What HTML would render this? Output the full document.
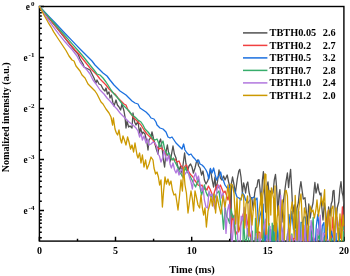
<!DOCTYPE html>
<html><head><meta charset="utf-8"><title>Decay curves</title>
<style>html,body{margin:0;padding:0;background:#fff}svg{display:block}text{font-family:"Liberation Serif","Times New Roman",serif;font-weight:bold;fill:#000}</style></head>
<body>
<svg width="350" height="276" viewBox="0 0 350 276">
<rect width="350" height="276" fill="#fff"/>
<g stroke="#000" stroke-width="1.4" fill="none">
<rect x="39.4" y="6.5" width="304.5" height="234.6"/>
<path stroke-width="1.45" d="M39.4,6.5h4.6M39.4,10.0h2.4M39.4,12.8h2.4M39.4,15.9h2.4M39.4,19.3h2.4M39.4,23.4h2.4M39.4,28.2h2.4M39.4,33.7h2.4M39.4,40.2h2.4M39.4,48.2h2.4M39.4,57.5h4.6M39.4,61.0h2.4M39.4,63.8h2.4M39.4,66.9h2.4M39.4,70.3h2.4M39.4,74.4h2.4M39.4,79.2h2.4M39.4,84.7h2.4M39.4,91.2h2.4M39.4,99.2h2.4M39.4,108.5h4.6M39.4,112.0h2.4M39.4,114.8h2.4M39.4,117.9h2.4M39.4,121.3h2.4M39.4,125.4h2.4M39.4,130.2h2.4M39.4,135.7h2.4M39.4,142.2h2.4M39.4,150.2h2.4M39.4,159.5h4.6M39.4,163.0h2.4M39.4,165.8h2.4M39.4,168.9h2.4M39.4,172.3h2.4M39.4,176.4h2.4M39.4,181.2h2.4M39.4,186.7h2.4M39.4,193.2h2.4M39.4,201.2h2.4M39.4,210.5h4.6M39.4,214.0h2.4M39.4,216.8h2.4M39.4,219.9h2.4M39.4,223.3h2.4M39.4,227.4h2.4M39.4,232.2h2.4M39.4,237.7h2.4M39.4,241.1v-4.3M77.5,241.1v-2.3M115.5,241.1v-4.3M153.6,241.1v-2.3M191.7,241.1v-4.3M229.7,241.1v-2.3M267.8,241.1v-4.3M305.8,241.1v-2.3M343.9,241.1v-4.3"/>
</g>
<clipPath id="pc"><rect x="38.699999999999996" y="5.8" width="305.9" height="235.6"/></clipPath>
<g fill="none" stroke-width="1.3" stroke-linejoin="round" stroke-linecap="round" clip-path="url(#pc)">
<path stroke="#515151" d="M39.5,6.5 L43.9,11.9 L48.2,17.4 L52.6,22.8 L57.0,28.2 L61.3,33.7 L65.7,39.1 L70.0,44.6 L74.4,50.0 L78.0,54.0 L80.0,59.0 L83.0,64.0 L84.0,67.0 L88.0,69.0 L90.0,70.0 L92.0,74.0 L94.0,78.0 L96.0,83.0 L97.0,80.0 L99.0,84.0 L101.0,85.0 L103.0,89.0 L105.0,91.0 L106.0,88.0 L107.4,94.0 L109.0,92.0 L110.0,98.0 L111.4,95.0 L113.0,103.0 L114.0,106.0 L116.0,100.0 L117.4,105.0 L119.0,107.0 L120.6,110.0 L122.0,104.0 L124.0,111.0 L125.0,117.0 L126.0,128.0 L127.0,121.0 L128.6,127.0 L130.0,126.0 L132.0,128.0 L133.0,113.0 L134.6,122.0 L136.0,125.0 L138.0,121.0 L139.4,133.0 L140.6,128.0 L142.0,134.0 L143.0,132.0 L145.0,134.0 L147.0,143.0 L148.0,150.0 L149.0,140.0 L151.0,137.0 L152.0,132.0 L153.6,139.0 L155.0,144.0 L156.6,150.0 L158.0,154.0 L159.4,142.0 L160.6,139.0 L162.0,147.0 L163.4,160.0 L164.6,167.0 L166.0,152.0 L167.4,145.0 L168.6,153.0 L170.0,162.0 L171.4,155.0 L173.0,146.0 L174.4,154.0 L176.0,158.0 L177.4,165.0 L179.0,170.0 L180.6,166.0 L182.0,173.0 L183.4,162.0 L184.6,153.0 L186.0,164.0 L187.4,171.0 L189.0,166.0 L190.6,164.0 L192.0,167.0 L193.4,173.0 L195.0,168.0 L196.4,162.0 L197.4,160.0 L198.6,166.0 L200.0,168.0 L201.6,175.0 L203.0,171.0 L204.4,180.0 L206.0,184.0 L207.6,181.0 L209.0,177.0 L210.4,169.0 L212.0,179.0 L213.6,187.0 L215.0,177.0 L216.0,190.0 L217.6,181.0 L219.0,170.0 L220.4,178.0 L222.0,180.0 L223.6,176.0 L225.0,180.0 L227.2,175.0 L228.6,182.0 L230.0,187.5 L230.8,241.0 L231.5,183.0 L232.5,177.0 L234.0,184.6 L235.4,193.0 L237.3,179.0 L238.8,171.0 L239.8,169.4 L241.0,177.0 L242.4,193.0 L243.6,183.0 L244.6,187.0 L245.6,193.0 L246.7,184.6 L247.8,182.0 L249.0,192.0 L250.4,198.0 L251.8,197.7 L253.3,210.0 L254.7,193.0 L255.7,188.0 L256.9,187.0 L258.0,180.0 L259.0,179.6 L260.0,189.0 L261.2,205.0 L262.4,180.0 L263.4,171.6 L264.4,184.6 L265.6,212.0 L267.0,186.0 L268.0,182.0 L269.2,195.0 L270.7,191.0 L272.0,193.0 L273.0,193.0 L274.3,180.0 L275.5,174.5 L276.5,186.0 L278.0,215.0 L279.0,195.0 L279.9,189.7 L280.9,210.0 L282.0,222.0 L283.0,204.0 L284.5,193.0 L286.0,181.7 L287.4,173.0 L288.6,187.5 L289.6,177.4 L290.6,169.4 L291.7,189.0 L292.9,214.0 L294.3,205.0 L295.6,228.0 L297.0,208.0 L298.3,203.0 L299.7,189.0 L300.9,181.7 L301.9,189.0 L303.3,199.0 L305.0,197.7 L306.0,208.0 L307.4,225.0 L308.8,204.0 L310.2,218.0 L311.6,209.0 L313.0,203.0 L314.2,189.0 L314.9,182.5 L316.0,193.0 L317.0,189.0 L317.8,184.0 L318.8,190.4 L320.0,194.8 L321.0,193.0 L321.7,206.0 L323.0,220.0 L324.4,203.0 L325.8,213.0 L327.2,230.0 L328.6,207.0 L330.0,216.0 L331.2,204.0 L332.2,201.0 L333.0,191.0 L334.0,190.4 L334.8,205.0 L336.0,222.0 L337.4,207.0 L338.8,202.0 L339.9,189.0 L341.0,181.7 L342.0,192.0 L343.0,196.0 L343.9,205.0"/>
<path stroke="#F14040" d="M39.5,6.5 L43.9,11.9 L48.4,17.4 L52.8,22.8 L57.2,28.2 L61.7,33.7 L66.1,39.1 L70.6,44.6 L75.0,50.0 L79.0,54.0 L82.0,58.0 L86.0,63.0 L90.0,68.0 L94.0,72.0 L97.0,75.0 L100.0,79.0 L103.0,82.0 L106.0,85.0 L109.0,89.0 L112.0,92.0 L115.0,94.0 L118.0,98.0 L121.0,101.0 L124.0,104.0 L126.0,105.0 L128.0,110.0 L131.0,114.0 L133.0,117.0 L136.0,120.0 L139.0,123.0 L141.0,125.0 L144.0,130.0 L147.0,134.0 L150.0,137.0 L153.0,140.0 L155.0,144.0 L157.0,147.0 L159.0,149.0 L161.0,148.0 L163.0,150.0 L165.0,153.0 L167.0,155.0 L169.0,156.0 L171.0,158.0 L173.0,160.0 L175.0,159.0 L177.0,162.0 L179.0,161.0 L180.6,165.0 L182.0,167.0 L183.4,169.0 L185.0,166.0 L186.6,165.0 L188.0,170.0 L189.4,173.0 L191.0,175.0 L193.0,177.0 L194.5,180.0 L196.0,182.0 L198.0,185.0 L200.0,186.0 L202.0,185.0 L203.6,190.0 L205.0,188.0 L207.0,190.0 L208.4,186.0 L210.0,189.0 L211.6,193.0 L213.0,199.0 L214.4,192.0 L216.0,187.0 L217.6,185.0 L219.0,188.0 L220.4,185.0 L222.0,189.0 L223.6,193.0 L225.0,191.0 L226.4,195.0 L228.0,200.0 L229.5,193.7 L231.0,232.8 L232.5,214.1 L234.1,223.3 L235.6,234.9 L237.1,231.4 L238.6,232.0 L240.1,226.7 L241.7,220.9 L243.2,213.9 L244.7,225.7 L246.2,214.7 L247.7,224.3 L249.3,230.7 L250.8,237.4 L252.3,255.5 L253.8,277.2 L255.3,237.7 L256.9,240.2 L258.4,232.0 L259.9,232.4 L261.4,272.3 L262.9,256.0 L264.5,269.4 L266.0,224.0 L267.5,243.8 L269.0,239.5 L270.5,265.7 L272.1,280.2 L273.6,257.4 L275.1,245.9 L276.6,235.1 L278.1,296.4 L279.7,238.1 L281.2,268.3 L282.7,258.4 L284.2,253.5 L285.7,256.4 L287.3,236.9 L288.8,229.9 L290.3,239.5 L291.8,260.6 L293.3,238.3 L294.9,239.3 L296.4,230.8 L297.9,241.7 L299.4,312.5 L300.9,268.8 L302.5,258.0 L304.0,230.3 L305.5,251.3 L307.0,230.6 L308.5,241.9 L310.1,287.7 L311.6,247.4 L313.1,237.1 L314.6,239.9 L316.1,305.8 L317.7,239.6 L319.2,264.6 L320.7,370.2 L322.2,264.2 L323.7,366.9 L325.3,293.5 L326.8,223.1 L328.3,210.5 L329.8,228.9 L331.3,239.8 L332.9,217.1 L334.4,241.7 L335.9,279.7 L337.4,370.2 L338.9,231.4 L340.6,238.0 L342.4,207.0 L343.9,232.0"/>
<path stroke="#1A6FDF" d="M39.5,6.5 L44.7,11.9 L49.9,17.4 L55.1,22.8 L60.2,28.2 L65.4,33.7 L70.6,39.1 L75.8,44.6 L81.0,50.0 L84.0,53.0 L88.0,57.0 L92.0,61.0 L95.0,65.0 L99.0,69.0 L103.0,73.0 L107.0,76.0 L110.0,80.0 L114.0,85.0 L117.0,88.0 L120.0,91.0 L123.0,93.0 L126.0,95.0 L129.0,98.0 L132.0,101.0 L135.0,103.0 L138.0,104.0 L140.0,108.0 L143.0,110.0 L146.0,112.0 L149.0,115.0 L151.0,118.0 L154.0,119.0 L156.0,122.0 L157.0,125.0 L160.0,128.0 L163.0,129.0 L164.0,130.0 L166.0,132.0 L168.0,137.0 L170.0,138.0 L172.0,137.0 L174.0,140.0 L176.0,143.0 L178.0,145.0 L180.0,147.0 L182.0,149.0 L183.6,144.0 L185.0,150.0 L187.0,153.0 L189.0,155.0 L191.0,154.0 L193.0,157.0 L195.0,159.0 L197.0,162.0 L198.6,160.0 L200.0,164.0 L202.0,165.0 L204.0,167.0 L206.0,170.0 L207.4,173.0 L208.8,179.0 L210.4,168.5 L212.0,173.0 L213.6,168.0 L215.2,175.0 L216.6,180.0 L218.0,177.0 L219.4,175.0 L220.6,172.0 L222.0,178.0 L223.6,181.0 L225.0,185.0 L226.4,187.0 L228.0,189.0 L230.0,186.0 L232.0,185.0 L234.0,189.0 L235.6,193.0 L237.0,197.0 L239.0,198.0 L241.0,200.0 L242.4,193.0 L244.0,195.0 L245.6,200.0 L248.0,203.0 L250.0,200.0 L252.0,198.0 L254.0,197.0 L255.6,200.0 L257.0,198.0 L258.5,226.5 L260.0,215.7 L261.5,210.4 L263.1,204.1 L264.6,244.5 L266.1,235.2 L267.6,239.6 L269.1,231.3 L270.7,229.7 L272.2,249.9 L273.7,225.4 L275.2,255.2 L276.7,223.0 L278.3,246.0 L279.8,227.2 L281.3,225.8 L282.8,234.2 L284.3,242.8 L285.9,246.9 L287.4,255.1 L288.9,214.3 L290.4,225.9 L291.9,211.5 L293.5,229.5 L295.0,230.2 L296.5,246.2 L298.0,240.3 L299.5,271.7 L301.1,222.4 L302.6,222.6 L304.1,216.8 L305.6,217.2 L307.1,258.2 L308.7,326.2 L310.2,226.1 L311.7,233.7 L313.2,258.0 L314.7,256.7 L316.3,226.0 L317.8,214.3 L319.3,231.4 L320.8,251.9 L322.3,225.9 L323.9,222.5 L325.4,265.3 L326.9,227.3 L328.4,259.5 L329.9,238.7 L331.5,231.2 L333.0,238.3 L334.5,276.1 L336.0,233.1 L337.5,273.5 L339.1,228.5 L340.6,294.5 L342.1,249.2 L343.6,248.9"/>
<path stroke="#37AD6B" d="M39.5,6.5 L44.3,11.9 L49.0,17.4 L53.8,22.8 L58.5,28.2 L63.3,33.7 L68.1,39.1 L72.8,44.6 L77.6,50.0 L82.0,55.0 L86.0,60.0 L90.0,65.0 L94.0,70.0 L97.0,74.0 L100.0,75.0 L103.0,78.0 L106.0,82.0 L108.0,85.0 L111.0,90.0 L114.0,94.0 L117.0,97.0 L120.0,101.0 L123.0,105.0 L126.0,108.0 L129.0,111.0 L132.0,115.0 L135.0,117.0 L138.0,120.0 L141.0,122.0 L143.0,125.0 L145.0,129.0 L148.0,132.0 L151.0,136.0 L153.0,139.0 L155.0,140.0 L157.0,139.0 L158.6,143.0 L160.0,147.0 L161.4,144.0 L163.0,141.0 L164.6,149.0 L166.0,152.0 L167.4,155.0 L169.0,153.0 L170.6,157.0 L172.0,160.0 L173.4,158.0 L175.0,162.0 L176.6,165.0 L178.0,168.0 L179.4,172.0 L181.0,174.0 L182.6,177.0 L184.0,172.0 L185.4,167.0 L186.6,171.0 L188.0,173.0 L190.0,176.0 L192.0,180.0 L194.0,184.0 L195.6,187.0 L197.0,183.0 L198.4,179.0 L200.0,187.0 L201.6,195.0 L203.0,190.0 L204.4,185.0 L206.0,192.0 L207.6,196.0 L209.0,193.0 L211.0,197.0 L213.0,195.0 L215.0,198.0 L217.0,193.0 L219.0,191.0 L220.5,203.2 L222.0,210.7 L223.5,229.3 L225.1,207.8 L226.6,216.9 L228.1,218.7 L229.6,223.4 L231.1,208.8 L232.7,217.6 L234.2,215.4 L235.7,239.0 L237.2,244.1 L238.7,259.7 L240.3,243.2 L241.8,370.2 L243.3,216.3 L244.8,239.1 L246.3,241.0 L247.9,228.3 L249.4,252.5 L250.9,239.9 L252.4,231.1 L253.9,300.3 L255.5,218.3 L257.0,243.7 L258.5,235.1 L260.0,277.7 L261.5,263.7 L263.1,219.7 L264.6,261.7 L266.1,258.5 L267.6,238.7 L269.1,223.6 L270.7,370.2 L272.2,223.1 L273.7,243.2 L275.2,231.8 L276.7,280.3 L278.3,242.6 L279.8,221.4 L281.3,251.7 L282.8,266.4 L284.3,260.7 L285.9,263.4 L287.4,233.8 L288.9,245.2 L290.4,262.5 L291.9,234.0 L293.5,284.5 L295.0,303.4 L296.5,211.4 L298.0,267.0 L299.5,221.5 L301.1,251.8 L302.6,255.1 L304.1,238.8 L305.6,274.9 L307.1,274.4 L308.7,254.8 L310.2,259.6 L311.7,235.3 L313.2,217.4 L314.7,288.8 L316.3,275.7 L317.8,234.7 L319.3,239.1 L320.8,228.8 L322.3,270.8 L323.9,237.5 L325.4,251.0 L326.9,318.7 L328.4,240.3 L329.9,313.5 L331.5,238.6 L333.0,261.6 L334.5,254.6 L336.0,215.0 L337.5,222.8 L339.1,240.7 L340.6,241.3 L342.1,271.9 L343.6,226.8"/>
<path stroke="#B177DE" d="M39.4,6.5 L43.0,12.0 L47.0,18.0 L53.0,26.3 L59.0,34.3 L65.0,41.8 L69.0,46.3 L72.4,50.0 L77.0,56.0 L80.0,62.0 L83.0,66.0 L87.0,70.0 L90.0,74.0 L93.0,80.0 L96.0,84.0 L100.0,90.0 L104.0,94.0 L107.0,98.0 L110.0,101.0 L114.0,106.0 L117.0,109.0 L120.0,113.0 L123.0,116.0 L126.0,119.0 L129.0,122.0 L133.0,125.0 L136.0,128.0 L138.0,131.0 L139.6,137.0 L141.0,133.0 L142.4,140.0 L144.0,136.0 L146.0,143.0 L147.6,139.0 L149.0,145.0 L151.0,144.0 L153.0,142.0 L155.0,143.0 L156.6,146.0 L158.0,154.0 L159.4,156.0 L161.0,162.0 L162.6,158.0 L164.0,151.0 L165.4,156.0 L167.0,161.0 L168.6,155.0 L170.0,164.0 L171.4,168.0 L173.0,163.0 L174.6,170.0 L176.0,173.0 L177.4,169.0 L179.0,175.0 L180.6,171.0 L182.0,169.0 L183.4,177.0 L185.0,174.0 L186.6,172.0 L188.0,171.0 L189.4,177.0 L191.0,182.0 L192.4,189.0 L194.0,177.0 L195.6,173.0 L197.0,180.0 L198.4,176.0 L200.0,184.0 L201.6,191.0 L203.0,187.0 L204.4,200.0 L206.0,207.0 L207.6,208.0 L209.0,191.0 L210.4,196.0 L212.0,194.0 L213.6,205.0 L215.0,209.0 L216.4,195.0 L217.4,187.0 L218.4,185.0 L220.0,189.0 L221.6,198.0 L223.0,193.0 L224.4,203.0 L226.0,233.4 L227.5,210.4 L229.0,204.4 L230.6,226.5 L232.1,245.1 L233.6,222.2 L235.1,215.4 L236.6,208.4 L238.2,250.7 L239.7,254.8 L241.2,216.2 L242.7,220.4 L244.2,207.1 L245.8,214.7 L247.3,233.0 L248.8,237.4 L250.3,198.0 L251.8,239.5 L253.4,252.9 L254.9,265.5 L256.4,233.6 L257.9,233.2 L259.4,244.5 L261.0,238.6 L262.5,232.3 L264.0,225.2 L265.5,219.1 L267.0,234.8 L268.6,316.3 L270.1,226.3 L271.6,290.5 L273.1,244.7 L274.6,295.7 L276.2,241.2 L277.7,263.6 L279.2,237.1 L280.7,195.2 L282.2,243.4 L283.8,225.8 L285.3,290.9 L286.8,250.2 L288.3,229.4 L289.8,245.5 L291.4,235.2 L292.9,241.1 L294.4,276.4 L295.9,231.8 L297.4,268.6 L299.0,211.6 L300.5,258.1 L302.0,229.8 L303.5,244.3 L305.0,225.3 L306.6,261.8 L308.1,224.6 L309.6,247.8 L311.1,220.5 L312.6,231.4 L314.2,241.5 L315.7,268.9 L317.2,228.8 L318.7,234.6 L320.2,215.2 L321.8,255.3 L323.3,233.0 L324.8,233.9 L326.3,238.6 L327.8,240.3 L329.4,240.9 L330.9,262.7 L332.4,279.9 L333.9,256.2 L335.4,232.4 L337.0,217.2 L338.5,225.5 L340.0,224.3 L341.5,229.0 L343.0,230.5"/>
<path stroke="#CC9900" d="M39.4,6.5 L44.1,15.2 L48.1,22.3 L51.2,27.3 L53.7,31.9 L57.0,37.0 L60.0,41.5 L63.0,46.0 L66.0,50.5 L69.0,56.0 L72.0,60.0 L74.0,61.0 L76.0,66.0 L80.0,71.0 L82.0,75.0 L85.0,78.0 L88.0,84.0 L91.0,87.0 L93.0,89.0 L95.0,91.0 L97.0,94.0 L99.0,98.0 L101.0,102.0 L103.0,104.0 L106.0,109.0 L109.0,113.0 L111.0,117.0 L112.6,125.0 L113.4,118.0 L115.0,129.0 L116.4,133.0 L117.6,135.0 L119.0,130.0 L120.4,139.0 L121.6,143.0 L123.0,136.0 L124.4,140.0 L126.0,145.0 L127.6,137.0 L129.0,142.0 L130.6,149.0 L132.0,145.0 L133.6,152.0 L135.0,143.0 L137.0,155.0 L138.0,158.0 L139.6,153.0 L141.0,163.0 L142.4,155.0 L144.0,167.0 L145.6,160.0 L147.0,169.0 L149.0,164.0 L151.0,157.0 L153.0,160.0 L154.0,168.0 L155.6,174.0 L157.0,172.0 L158.4,177.0 L159.6,185.0 L161.0,180.0 L162.4,207.0 L163.6,191.0 L165.0,177.0 L166.4,184.0 L168.0,179.0 L169.4,185.0 L171.0,181.0 L172.4,190.0 L174.0,195.0 L175.6,194.0 L177.0,203.0 L178.0,210.0 L179.6,195.0 L181.0,180.0 L182.4,191.0 L183.6,168.0 L185.0,185.0 L186.4,193.0 L188.0,213.0 L189.6,201.0 L191.0,191.0 L192.4,199.0 L193.6,211.0 L195.0,191.0 L196.4,197.0 L198.0,205.0 L199.6,208.0 L201.0,195.0 L202.4,208.0 L203.6,215.0 L205.0,208.0 L206.4,227.0 L208.0,211.0 L209.6,205.0 L211.0,197.0 L212.4,206.0 L214.0,194.0 L215.6,213.0 L217.0,196.0 L219.0,206.0 L221.0,214.0 L223.0,196.0 L225.0,207.0 L227.0,193.0 L228.0,185.0 L229.4,200.0 L231.0,184.0 L232.4,185.0 L234.0,193.0 L235.6,224.0 L237.0,198.0 L238.4,231.0 L240.0,200.0 L241.0,199.0 L242.4,194.0 L243.6,196.0 L244.6,228.0 L246.0,204.0 L247.6,196.0 L249.0,236.0 L250.4,198.0 L252.0,225.0 L253.5,207.0 L255.0,198.0 L256.4,222.0 L257.7,238.0 L259.0,213.0 L260.5,200.0 L261.2,193.0 L261.9,238.0 L262.7,196.0 L263.8,189.0 L264.9,173.8 L265.9,174.5 L266.5,234.0 L267.2,186.0 L268.0,197.7 L268.7,225.0 L269.2,190.4 L270.2,194.8 L270.8,215.0 L271.4,188.0 L272.6,193.0 L273.6,199.0 L274.3,231.0 L275.0,186.0 L275.8,240.0 L277.1,218.0 L278.6,206.0 L280.0,240.0 L281.3,213.0 L282.2,200.0 L283.6,217.0 L284.4,240.0 L285.2,191.0 L286.2,190.4 L287.4,196.0 L288.5,224.0 L289.6,241.0 L291.0,210.0 L292.1,202.0 L293.4,220.0 L294.2,238.0 L295.2,195.5 L297.0,240.0 L298.4,212.0 L300.0,199.0 L301.0,194.0 L302.0,216.0 L303.0,241.0 L304.4,208.0 L306.0,214.0 L307.6,241.0 L309.0,220.0 L310.0,206.0 L311.6,212.0 L313.0,210.0 L314.4,218.0 L316.0,209.0 L317.0,200.0 L318.4,216.0 L320.0,206.0 L321.4,197.0 L323.0,206.0 L324.6,189.7 L326.0,241.0 L327.4,218.0 L328.6,210.0 L330.0,241.0 L331.4,209.0 L333.0,206.0 L334.4,241.0 L336.0,208.0 L337.0,218.0 L338.4,241.0 L340.0,214.0 L341.6,241.0 L343.0,215.0 L343.9,225.0"/>
</g>
<text x="39.4" y="254.3" font-size="10" text-anchor="middle">0</text>
<text x="115.5" y="254.3" font-size="10" text-anchor="middle">5</text>
<text x="191.7" y="254.3" font-size="10" text-anchor="middle">10</text>
<text x="267.8" y="254.3" font-size="10" text-anchor="middle">15</text>
<text x="343.9" y="254.3" font-size="10" text-anchor="middle">20</text>
<text x="34.4" y="10.3" font-size="9.3" text-anchor="end">e<tspan font-size="7" dy="-4.4" dx="0.9">0</tspan></text>
<text x="34.4" y="61.3" font-size="9.3" text-anchor="end">e<tspan font-size="7" dy="-4.4" dx="0.9">-1</tspan></text>
<text x="34.4" y="112.3" font-size="9.3" text-anchor="end">e<tspan font-size="7" dy="-4.4" dx="0.9">-2</tspan></text>
<text x="34.4" y="163.3" font-size="9.3" text-anchor="end">e<tspan font-size="7" dy="-4.4" dx="0.9">-3</tspan></text>
<text x="34.4" y="214.3" font-size="9.3" text-anchor="end">e<tspan font-size="7" dy="-4.4" dx="0.9">-4</tspan></text>
<text x="192" y="272.7" font-size="10.5" text-anchor="middle">Time (ms)</text>
<text transform="translate(9.4,117.3) rotate(-90)" font-size="10.05" text-anchor="middle">Nomalized intensity (a.u.)</text>
<line x1="243" y1="32.9" x2="267.4" y2="32.9" stroke="#515151" stroke-width="1.5"/><text x="269.6" y="36.3" font-size="10.3">TBTH0.05</text><text x="322.8" y="36.3" font-size="10.3">2.6</text>
<line x1="243" y1="45.4" x2="267.4" y2="45.4" stroke="#F14040" stroke-width="1.5"/><text x="269.6" y="48.8" font-size="10.3">TBTH0.2</text><text x="322.8" y="48.8" font-size="10.3">2.7</text>
<line x1="243" y1="57.9" x2="267.4" y2="57.9" stroke="#1A6FDF" stroke-width="1.5"/><text x="269.6" y="61.3" font-size="10.3">TBTH0.5</text><text x="322.8" y="61.3" font-size="10.3">3.2</text>
<line x1="243" y1="70.4" x2="267.4" y2="70.4" stroke="#37AD6B" stroke-width="1.5"/><text x="269.6" y="73.8" font-size="10.3">TBTH0.7</text><text x="322.8" y="73.8" font-size="10.3">2.8</text>
<line x1="243" y1="82.9" x2="267.4" y2="82.9" stroke="#B177DE" stroke-width="1.5"/><text x="269.6" y="86.3" font-size="10.3">TBTH1.0</text><text x="322.8" y="86.3" font-size="10.3">2.4</text>
<line x1="243" y1="95.4" x2="267.4" y2="95.4" stroke="#CC9900" stroke-width="1.5"/><text x="269.6" y="98.8" font-size="10.3">TBTH1.2</text><text x="322.8" y="98.8" font-size="10.3">2.0</text>
</svg>
</body></html>
